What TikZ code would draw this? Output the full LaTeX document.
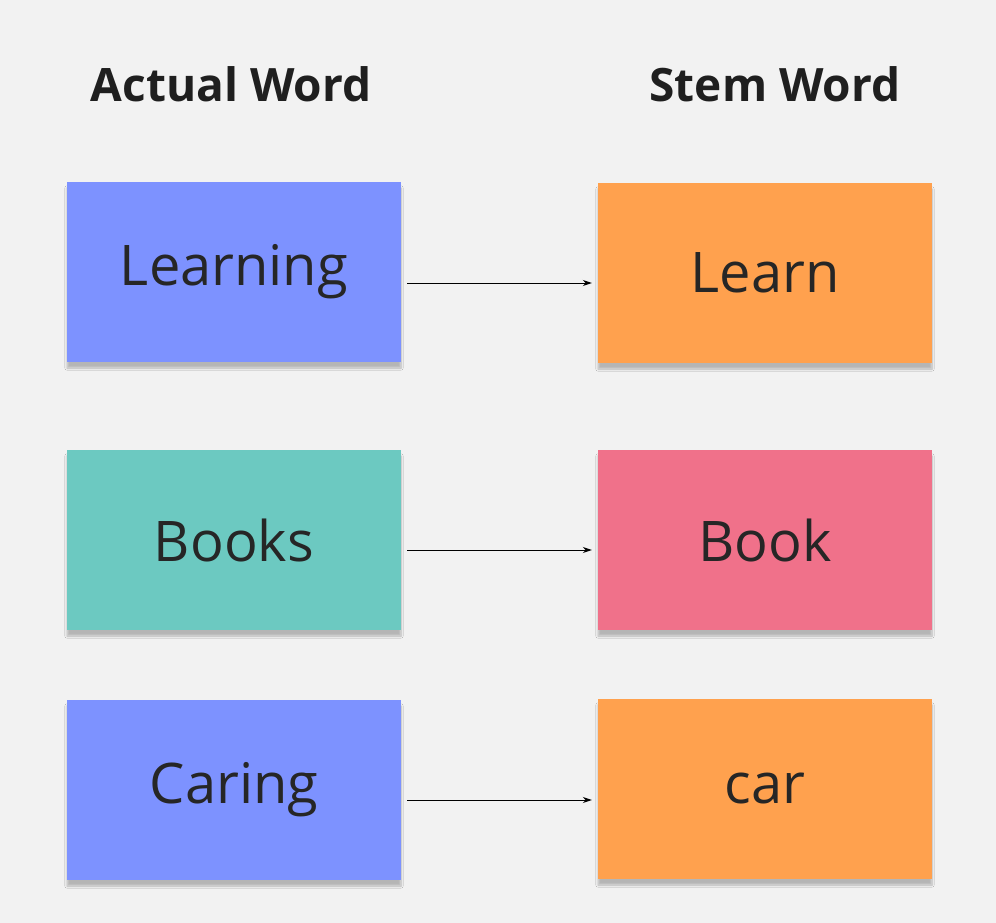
\documentclass[tikz,border=0pt]{standalone}
\usepackage{fontspec}
\setmainfont{Open Sans}
\usetikzlibrary{arrows.meta,shadows.blur}
\definecolor{bg}{HTML}{F2F2F2}
\definecolor{cblue}{HTML}{7D92FF}
\definecolor{cteal}{HTML}{6CC9C1}
\definecolor{corange}{HTML}{FFA14E}
\definecolor{cpink}{HTML}{F0718A}
\tikzset{
 note/.style={minimum width=334pt,minimum height=180pt,inner sep=0pt,
   font=\fontsize{56}{60}\selectfont,text=black!85,
   blur shadow={shadow xshift=0pt,shadow yshift=-6pt,shadow blur steps=6,shadow opacity=25}},
 head/.style={font=\bfseries\fontsize{46}{50}\selectfont,text=black!88},
 conn/.style={-{Stealth[length=9pt,width=6pt]},line width=1pt}
}
\begin{document}
\begin{tikzpicture}[x=1pt,y=-1pt]
\fill[bg] (0,0) rectangle (996,923);
\useasboundingbox (0,0) rectangle (996,923);
\node[head] (h1) at (231,84) {Actual Word};
\node[head] (h2) at (775,84) {Stem Word};
\node[note,fill=cblue] (a1) at (234,272) {Learning};
\node[note,fill=cteal] (a2) at (234,540) {Books};
\node[note,fill=cblue] (a3) at (234,790) {Caring};
\node[note,fill=corange] (b1) at (765,273) {Learn};
\node[note,fill=cpink] (b2) at (765,540) {Book};
\node[note,fill=corange] (b3) at (765,789) {car};
\draw[conn] ([xshift=6pt,yshift=-11pt]a1.east) -- ([xshift=-6pt]b1.west|-{0,283});
\draw[conn] ([xshift=6pt,yshift=-10pt]a2.east) -- ([xshift=-6pt]b2.west|-{0,550});
\draw[conn] ([xshift=6pt,yshift=-10pt]a3.east) -- ([xshift=-6pt]b3.west|-{0,800});
\end{tikzpicture}
\end{document}
